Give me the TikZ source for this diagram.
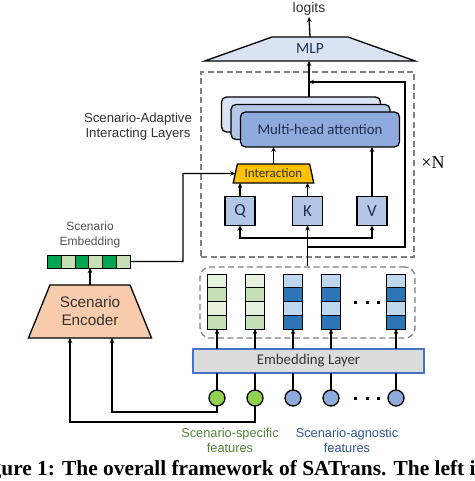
\documentclass[tikz,border=0pt]{standalone}
\usepackage{fontspec}
\setmainfont{Liberation Sans}
\newfontfamily\calfont{Carlito}
\newfontfamily\serfont{Liberation Serif}
\usetikzlibrary{arrows.meta, shapes.geometric, shapes.multipart, positioning}

\definecolor{mlpfill}{HTML}{DAE3F3}
\definecolor{headmid}{HTML}{B4C7E7}
\definecolor{headfront}{HTML}{8FAADC}
\definecolor{navytext}{HTML}{1F2F55}
\definecolor{interfill}{HTML}{FFC000}
\definecolor{encfill}{HTML}{F8CBAD}
\definecolor{layerfill}{HTML}{DCDCDC}
\definecolor{layerline}{HTML}{4472C4}
\definecolor{dashgray}{HTML}{808080}
\definecolor{darkgreen}{HTML}{00A550}
\definecolor{lightgreen}{HTML}{C5E0B4}
\definecolor{palegreen}{HTML}{E6F2DE}
\definecolor{featgreen}{HTML}{92D050}
\definecolor{featblue}{HTML}{8FAADC}
\definecolor{paleblue}{HTML}{BDD7EE}
\definecolor{darkblue}{HTML}{2E75B6}
\definecolor{labgreen}{HTML}{548235}
\definecolor{labblue}{HTML}{2F5597}
\definecolor{labgray}{HTML}{333333}

\begin{document}
\begin{tikzpicture}[x=1pt, y=-1pt, >={Stealth[length=5pt, width=4.5pt]}, line width=1.3pt, node distance=38pt,
    trap/.style={trapezium, draw, trapezium stretches=true, inner sep=0pt, outer sep=0pt},
    headbox/.style={draw, rounded corners=5pt, minimum width=159pt, minimum height=35pt, outer sep=0pt},
    qkv/.style={draw, fill=headmid, minimum width=30pt, minimum height=29pt, outer sep=0pt, text=navytext, font=\calfont\fontsize{17}{17}\selectfont},
    feat/.style={circle, draw, minimum size=16pt, inner sep=0pt, outer sep=0pt},
    vec/.style={rectangle split, rectangle split parts=4, draw, inner sep=0pt, outer sep=0pt, line width=1pt,
        rectangle split empty part width=14pt, rectangle split empty part height=12.75pt, rectangle split empty part depth=0pt},
    ecell/.style={draw, line width=1pt, minimum width=13.8pt, minimum height=13pt, inner sep=0pt, outer sep=0pt},
    dashbox/.style={draw=dashgray, dash pattern=on 6pt off 3.5pt, line width=1.3pt},
    lab/.style={align=center, inner sep=0pt, text=labgray, font=\fontsize{12.8}{15}\selectfont},
    dotrow/.style={inner sep=0pt}]

    \useasboundingbox (0,0) rectangle (474,481);

    %define the output part
    \node[trap, fill=mlpfill, minimum width=212pt, minimum height=24pt, trapezium left angle=22, trapezium right angle=22,
        text=navytext, font=\calfont\fontsize{15.5}{16}\selectfont] (mlp) at (310,49) {MLP};
    \node[anchor=south, inner sep=1pt, text=labgray, font=\fontsize{14}{14}\selectfont] (logits) at (309,17) {logits};

    %define the interacting layers
    \node[dashbox, minimum width=213pt, minimum height=185pt] (layers) at (307.5,164.5) {};
    \node[headbox, fill=mlpfill] (head3) at (301,114.5) {};
    \node[headbox, fill=headmid] (head2) at (310.5,122) {};
    \node[headbox, fill=headfront, text=navytext, font=\calfont\fontsize{14.8}{15}\selectfont] (head1) at (320,129.5) {Multi-head attention};
    \node[trap, fill=interfill, minimum width=81pt, minimum height=19pt, trapezium left angle=70, trapezium right angle=70,
        text=labgray, font=\calfont\fontsize{13}{13}\selectfont] (inter) at (273.5,173.5) {Interaction};
    \node[qkv] (Q) at (240,211) {Q};
    \node[qkv] (K) at (307.5,211) {K};
    \node[qkv] (V) at (372,211) {V};
    \node[lab, font=\fontsize{13.2}{15}\selectfont] (salab) at (138,127) {Scenario-Adaptive\\Interacting Layers};
    \node[font=\serfont\fontsize{18}{18}\selectfont] (times) at (433,163) {×N};

    %define the scenario part
    \node[ecell, fill=darkgreen] (e1) at (54.4,261.5) {};
    \node[ecell, fill=lightgreen] (e2) [right=0pt of e1] {};
    \node[ecell, fill=darkgreen] (e3) [right=0pt of e2] {};
    \node[ecell, fill=lightgreen] (e4) [right=0pt of e3] {};
    \node[ecell, fill=darkgreen] (e5) [right=0pt of e4] {};
    \node[ecell, fill=lightgreen] (e6) [right=0pt of e5] {};
    \node[lab, font=\fontsize{12}{15}\selectfont, text=labgray!85] (emblab) at (90,235) {Scenario\\Embedding};
    \node[trap, fill=encfill, minimum width=124pt, minimum height=53pt, trapezium left angle=61, trapezium right angle=61,
        align=center, text=labgray, font=\fontsize{15.3}{18}\selectfont] (enc) at (90,311.5) {Scenario\\Encoder};

    %define the embedding part
    \node[dashbox, rounded corners=10pt, minimum width=215pt, minimum height=71pt] (group) at (307.5,302.5) {};
    \node[draw=layerline, fill=layerfill, line width=1.3pt, minimum width=231pt, minimum height=24pt, outer sep=0pt,
        text=labgray, font=\calfont\fontsize{14.8}{15}\selectfont] (layer) at (308.5,361) {Embedding Layer};
    \node[feat, fill=featgreen] (f1) at (217,398) {};
    \node[feat, fill=featgreen] (f2) [right of=f1] {};
    \node[feat, fill=featblue] (f3) [right of=f2] {};
    \node[feat, fill=featblue] (f4) [right of=f3] {};
    \node[feat, fill=featblue] (f5) [right of=f4, xshift=27pt] {};
    \node[vec, rectangle split part fill={palegreen, lightgreen, palegreen, lightgreen}] (v1) at (217,301.5) {};
    \node[vec, rectangle split part fill={palegreen, lightgreen, palegreen, lightgreen}] (v2) at (255,301.5) {};
    \node[vec, rectangle split part fill={paleblue, darkblue, paleblue, darkblue}] (v3) at (293,301.5) {};
    \node[vec, rectangle split part fill={paleblue, darkblue, paleblue, darkblue}] (v4) at (331,301.5) {};
    \node[vec, rectangle split part fill={paleblue, darkblue, paleblue, darkblue}] (v5) at (396,301.5) {};
    \node[dotrow] (dots1) at (367,302) {\rule{3pt}{3pt}\hspace{8.5pt}\rule{3pt}{3pt}\hspace{8.5pt}\rule{3pt}{3pt}};
    \node[dotrow] (dots2) at (367,398) {\rule{3pt}{3pt}\hspace{8.5pt}\rule{3pt}{3pt}\hspace{8.5pt}\rule{3pt}{3pt}};
    \node[lab, text=labgreen] (speclab) at (230,440.5) {Scenario-specific\\features};
    \node[lab, text=labblue] (aglab) at (347,440.5) {Scenario-agnostic\\features};

    \node[anchor=base east, inner sep=0pt, font=\serfont\bfseries\fontsize{21.4}{22}\selectfont] (caption) at (465,475)
        {Figure 1: The overall framework of SATrans. The left\rlap{ is}};

    %define the turning points
    \coordinate (split) at (307.5,238);
    \coordinate (resbase) at (307.5,247);
    \coordinate (resturn) at (405,82);
    \coordinate (resin) at (309,82);
    \coordinate (intin) at (183,173.5);
    \coordinate (low1) at (112,412);
    \coordinate (low2) at (70,422);

    %define the link
    \path[->] (mlp.north) edge (logits.south)
    (head3.north -| resin) edge (resin |- mlp.south)
    (inter.north) edge (inter.north |- head1.south)
    (V.north) edge (V.north |- head1.south)
    (Q.north) edge (Q.north |- inter.south)
    (K.north) edge (K.north |- inter.south)
    (group.north -| K.south) edge (K.south)
    (layer.north -| v1.south) edge (v1.south)
    (layer.north -| v2.south) edge (v2.south)
    (layer.north -| v3.south) edge (v3.south)
    (layer.north -| v4.south) edge (v4.south)
    (layer.north -| v5.south) edge (v5.south)
    (enc.north) edge (enc.north |- e1.south);
    \draw[->] (split) -| (Q.south);
    \draw[->] (split) -| (V.south);
    \draw[->] (resbase) -| (resturn) -- (resin);
    \draw[->] (e6.east) -| (intin) -- (inter.west);
    \draw[->] (f1.south) |- (low1) -- (low1 |- enc.south);
    \draw[->] (f2.south) |- (low2) -- (low2 |- enc.south);
    \path (f1.north) edge (f1 |- layer.south)
    (f2.north) edge (f2 |- layer.south)
    (f3.north) edge (f3 |- layer.south)
    (f4.north) edge (f4 |- layer.south)
    (f5.north) edge (f5 |- layer.south);
\end{tikzpicture}
\end{document}
